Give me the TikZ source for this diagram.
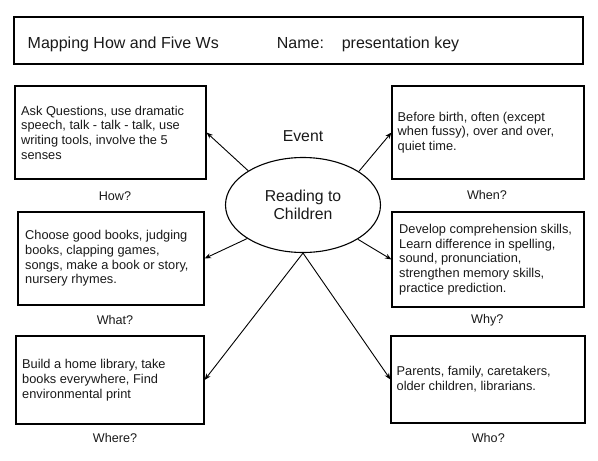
\documentclass[tikz,border=0pt]{standalone}
\usepackage{fontspec}
\setmainfont{Liberation Sans}
\usetikzlibrary{arrows.meta,shapes.geometric}
\newcommand{\boxfont}{\fontsize{12.8}{14.7}\selectfont}
\newcommand{\labfont}{\fontsize{12.6}{14.7}\selectfont}
\newcommand{\ellfont}{\fontsize{15.8}{18.3}\selectfont}
\newcommand{\titfont}{\fontsize{16}{19}\selectfont}
\tikzset{
  wbox/.style={draw, line width=1.1pt, inner sep=0pt},
  btext/.style={anchor=west, inner sep=0pt, align=left, font=\boxfont, text=black!90},
  qlabel/.style={font=\labfont, inner sep=0pt, text height=9pt, text depth=0pt, text=black!90},
  arr/.style={draw, line width=0.9pt, -{Stealth[length=6.5pt,width=5pt]}},
  ttext/.style={font=\titfont, inner sep=0pt, anchor=base west, text=black!90}
}
\begin{document}
\begin{tikzpicture}[x=1pt,y=-1pt]
\useasboundingbox (0,0) rectangle (598,461);
% title bar
\node[wbox, minimum width=569pt, minimum height=47pt] (title) at (298.5,40.5) {};
\node[ttext] (tmap) at (27.5,48.5) {Mapping How and Five Ws};
\node[ttext] (tname) at (276.7,48.5) {Name:};
\node[ttext] (tkey) at (341.6,48.5) {presentation key};
% centre
\node[draw, ellipse, line width=1.1pt, minimum width=155pt, minimum height=95pt, inner sep=0pt, align=center, font=\ellfont, text=black!90] (ell) at (303,205) {Reading to\\Children};
\node[font=\ellfont, inner sep=0pt, text=black!90] (event) at (303,136) {Event};
% boxes
\node[wbox, minimum width=191pt, minimum height=93pt] (how) at (110.5,132.5) {};
\node[btext] (howt) at ([xshift=6.5pt]how.west)
  {Ask Questions, use dramatic\\speech, talk - talk - talk, use\\writing tools, involve the 5\\senses};
\node[wbox, minimum width=192pt, minimum height=93pt] (when) at (488,132.5) {};
\node[btext] (whent) at ([xshift=6pt]when.west)
  {Before birth, often (except\\when fussy), over and over,\\quiet time.};
\node[wbox, minimum width=186pt, minimum height=93pt] (what) at (111,258.5) {};
\node[btext] (whatt) at ([xshift=7.5pt]what.west)
  {Choose good books, judging\\books, clapping games,\\songs, make a book or story,\\nursery rhymes.};
\node[wbox, minimum width=192pt, minimum height=95pt] (why) at (488,259.5) {};
\node[btext] (whyt) at ([xshift=7.5pt]why.west)
  {Develop comprehension skills,\\Learn difference in spelling,\\sound, pronunciation,\\strengthen memory skills,\\practice prediction.};
\node[wbox, minimum width=188pt, minimum height=88pt] (where) at (110,380) {};
\node[btext] (wheret) at ([xshift=6.5pt]where.west)
  {Build a home library, take\\books everywhere, Find\\environmental print};
\node[wbox, minimum width=194pt, minimum height=87pt] (who) at (488,379.5) {};
\node[btext] (whot) at ([xshift=6pt]who.west)
  {Parents, family, caretakers,\\older children, librarians.};
% labels
\node[qlabel] (lhow) at (115,196) {How?};
\node[qlabel] (lwhen) at (487,194.5) {When?};
\node[qlabel] (lwhat) at (115,319.5) {What?};
\node[qlabel] (lwhy) at (487.3,318.5) {Why?};
\node[qlabel] (lwhere) at (115,438) {Where?};
\node[qlabel] (lwho) at (488.3,438) {Who?};
% arrows
\draw[arr] (ell.148) -- (how.east);
\draw[arr] (ell.31.5) -- (when.west);
\draw[arr] (ell.211.7) -- (what.east);
\draw[arr] (ell.328.5) -- (why.west);
\draw[arr] (ell.south) -- (where.east);
\draw[arr] (ell.south) -- (who.west);
\end{tikzpicture}
\end{document}
